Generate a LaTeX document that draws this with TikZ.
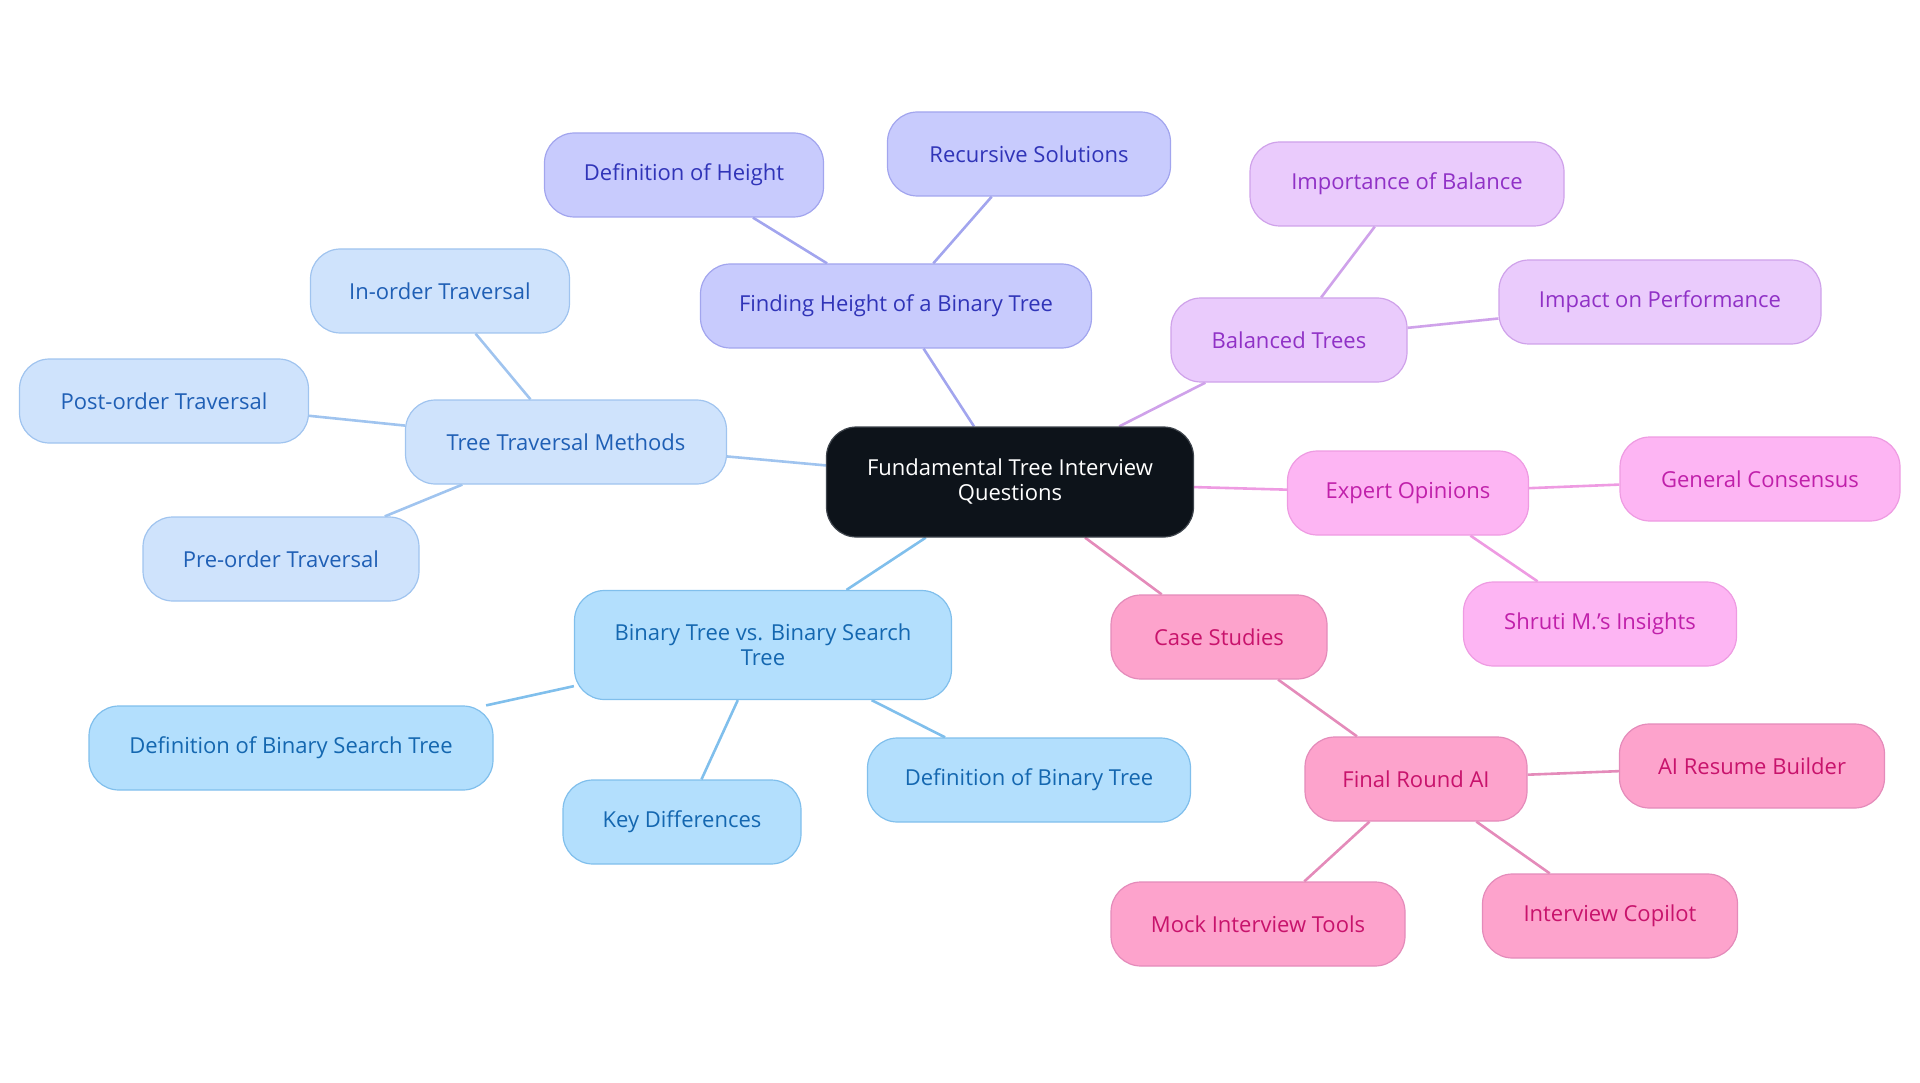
\documentclass[tikz,border=0pt]{standalone}
\usepackage{fontspec}
\setmainfont{Open Sans}
\usetikzlibrary{backgrounds}

\definecolor{rootfill}{HTML}{0D131A}
\definecolor{rootline}{HTML}{3E444C}
\definecolor{violetfill}{HTML}{C8CBFD}
\definecolor{violetline}{HTML}{A2A5EE}
\definecolor{violettext}{HTML}{3034B8}
\definecolor{paleblfill}{HTML}{CFE3FC}
\definecolor{paleblline}{HTML}{A0C4EF}
\definecolor{palebltext}{HTML}{1F5FB5}
\definecolor{skyfill}{HTML}{B3DFFD}
\definecolor{skyline}{HTML}{80BFEC}
\definecolor{skytext}{HTML}{1467B0}
\definecolor{lilacfill}{HTML}{EACBFC}
\definecolor{lilacline}{HTML}{CFA2EA}
\definecolor{lilactext}{HTML}{9031C6}
\definecolor{pinkfill}{HTML}{FDB5F3}
\definecolor{pinkline}{HTML}{EE9BE2}
\definecolor{pinktext}{HTML}{C020AA}
\definecolor{rosefill}{HTML}{FDA3CC}
\definecolor{roseline}{HTML}{E48BBA}
\definecolor{rosetext}{HTML}{C8136C}

\tikzset{
  topic/.style={rounded corners=30pt, minimum height=84pt, inner sep=0pt,
    line width=1.2pt, align=center, font=\fontsize{22}{25}\selectfont},
  rootbox/.style={topic, fill=rootfill, draw=rootline, text=white, minimum height=110pt},
  violetbox/.style={topic, fill=violetfill, draw=violetline, text=violettext},
  palebox/.style={topic, fill=paleblfill, draw=paleblline, text=palebltext},
  skybox/.style={topic, fill=skyfill, draw=skyline, text=skytext},
  lilacbox/.style={topic, fill=lilacfill, draw=lilacline, text=lilactext},
  pinkbox/.style={topic, fill=pinkfill, draw=pinkline, text=pinktext},
  rosebox/.style={topic, fill=rosefill, draw=roseline, text=rosetext},
  link/.style={line width=2.6pt}
}

\begin{document}
\begin{tikzpicture}[x=1pt,y=-1pt]
  \useasboundingbox (0,0) rectangle (1920,1083);

  \node[rootbox, minimum width=367pt] (fund) at (1010,482) {Fundamental Tree Interview\\Questions};

  % finding height
  \node[violetbox, minimum width=391pt] (height) at (896,306) {Finding Height of a Binary Tree};
  \node[violetbox, minimum width=279pt] (hdef) at (684,175) {Definition of Height};
  \node[violetbox, minimum width=283pt] (hrec) at (1029,154) {Recursive Solutions};

  % traversals
  \node[palebox, minimum width=321pt] (trav) at (566,442) {Tree Traversal Methods};
  \node[palebox, minimum width=259pt] (inord) at (440,291) {In-order Traversal};
  \node[palebox, minimum width=289pt] (postord) at (164,401) {Post-order Traversal};
  \node[palebox, minimum width=276pt] (preord) at (281,559) {Pre-order Traversal};

  % binary tree vs bst
  \node[skybox, minimum width=377pt, minimum height=109pt] (bvb) at (763,645) {Binary Tree vs. Binary Search\\Tree};
  \node[skybox, minimum width=404pt] (bstdef) at (291,748) {Definition of Binary Search Tree};
  \node[skybox, minimum width=238pt] (keydiff) at (682,822) {Key Differences};
  \node[skybox, minimum width=323pt] (btdef) at (1029,780) {Definition of Binary Tree};

  % balanced trees
  \node[lilacbox, minimum width=236pt] (bal) at (1289,340) {Balanced Trees};
  \node[lilacbox, minimum width=314pt] (balimp) at (1407,184) {Importance of Balance};
  \node[lilacbox, minimum width=322pt] (balperf) at (1660,302) {Impact on Performance};

  % expert opinions
  \node[pinkbox, minimum width=241pt] (expert) at (1408,493) {Expert Opinions};
  \node[pinkbox, minimum width=280pt] (consensus) at (1760,479) {General Consensus};
  \node[pinkbox, minimum width=273pt] (shruti) at (1600,624) {Shruti M.'s Insights};

  % case studies
  \node[rosebox, minimum width=216pt] (cases) at (1219,637) {Case Studies};
  \node[rosebox, minimum width=222pt] (fra) at (1416,779) {Final Round AI};
  \node[rosebox, minimum width=265pt] (resume) at (1752,766) {AI Resume Builder};
  \node[rosebox, minimum width=294pt] (mock) at (1258,924) {Mock Interview Tools};
  \node[rosebox, minimum width=255pt] (copilot) at (1610,916) {Interview Copilot};

  \begin{scope}[on background layer]
    \draw[link, violetline] (fund) -- (height);
    \draw[link, violetline] (height) -- (hdef);
    \draw[link, violetline] (height) -- (hrec);

    \draw[link, paleblline] (fund) -- (trav);
    \draw[link, paleblline] (trav) -- (inord);
    \draw[link, paleblline] (trav) -- (postord);
    \draw[link, paleblline] (trav) -- (preord);

    \draw[link, skyline] (fund) -- (bvb);
    \draw[link, skyline] (bvb) -- (bstdef);
    \draw[link, skyline] (bvb) -- (keydiff);
    \draw[link, skyline] (bvb) -- (btdef);

    \draw[link, lilacline] (fund) -- (bal);
    \draw[link, lilacline] (bal) -- (balimp);
    \draw[link, lilacline] (bal) -- (balperf);

    \draw[link, pinkline] (fund) -- (expert);
    \draw[link, pinkline] (expert) -- (consensus);
    \draw[link, pinkline] (expert) -- (shruti);

    \draw[link, roseline] (fund) -- (cases);
    \draw[link, roseline] (cases) -- (fra);
    \draw[link, roseline] (fra) -- (resume);
    \draw[link, roseline] (fra) -- (mock);
    \draw[link, roseline] (fra) -- (copilot);
  \end{scope}
\end{tikzpicture}
\end{document}
